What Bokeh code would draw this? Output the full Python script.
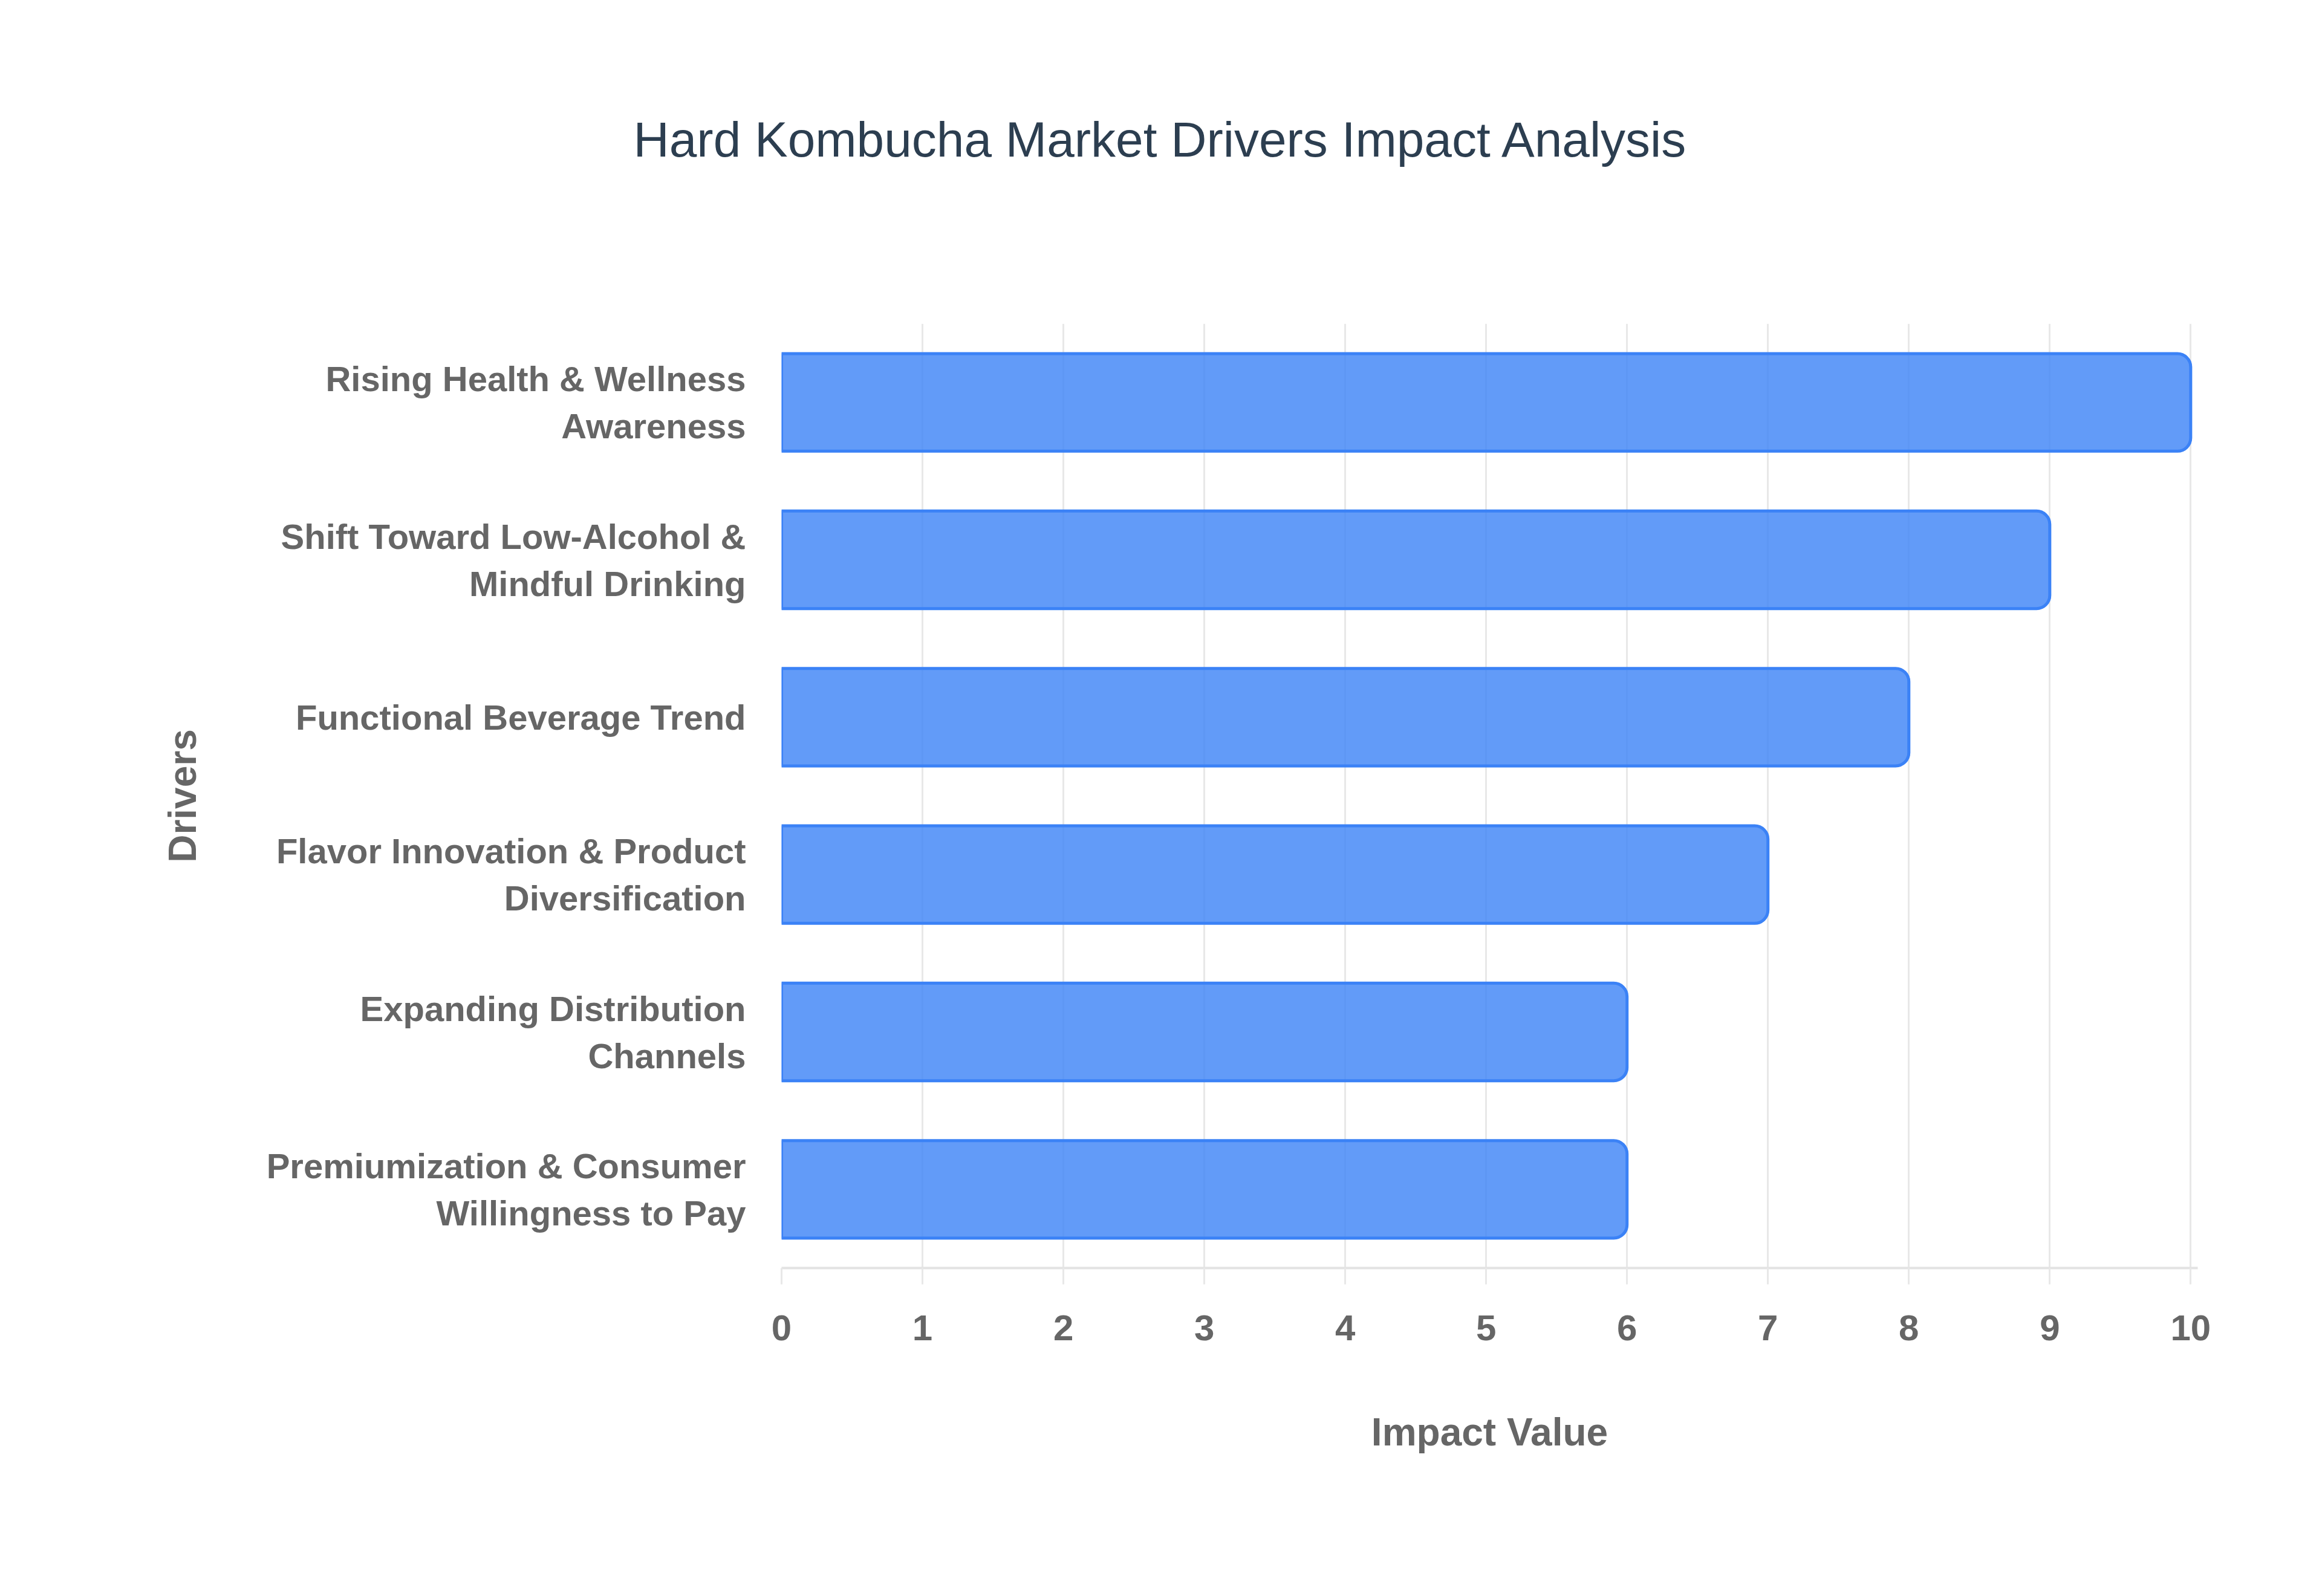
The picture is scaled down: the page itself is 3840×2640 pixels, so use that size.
from bokeh.plotting import figure
from bokeh.models import ColumnDataSource, FactorRange, Range1d, FixedTicker, LinearAxis
from bokeh.embed import file_html
from bokeh.resources import INLINE

# Drivers, top to bottom (line breaks as in the chart)
drivers = [
    "Rising Health & Wellness\nAwareness",
    "Shift Toward Low-Alcohol &\nMindful Drinking",
    "Functional Beverage Trend",
    "Flavor Innovation & Product\nDiversification",
    "Expanding Distribution\nChannels",
    "Premiumization & Consumer\nWillingness to Pay",
]
impact = [10, 9, 8, 7, 6, 6]
x_ticks = [0, 1, 2, 3, 4, 5, 6, 7, 8, 9, 10]

LABEL_FONT = "Liberation Sans"
LABEL_COLOR = "#666666"
BAR_COLOR = "#3b82f6"

source = ColumnDataSource(data=dict(driver=drivers, impact=impact))

p = figure(
    width=3824, height=2624,
    y_range=FactorRange(factors=drivers[::-1]),
    x_range=Range1d(0, 10.05),
    output_backend="svg", toolbar_location=None,
    min_border_left=1292, min_border_right=190,
    min_border_top=535, min_border_bottom=527,
)
p.outline_line_color = None
p.background_fill_color = "white"
p.border_fill_color = "white"

# bars with rounded right ends
p.hbar(y="driver", left=0, right="impact", height=0.62, source=source,
       fill_color=BAR_COLOR, fill_alpha=0.8,
       line_color=BAR_COLOR, line_width=5,
       border_radius=(0, 22, 22, 0))

# blank axis above the frame: a white tick with no label, only used as a gap under the title
gap = LinearAxis(ticker=FixedTicker(ticks=[0]), axis_line_color=None,
                 major_tick_line_color="white", minor_tick_line_color=None,
                 major_tick_out=255, major_tick_in=0, major_label_standoff=0,
                 major_label_text_color=None, major_label_text_font_size="1px")
p.add_layout(gap, "above")

# title
p.title.text = "Hard Kombucha Market Drivers Impact Analysis"
p.title.text_font = LABEL_FONT
p.title.text_font_size = "82px"
p.title.text_font_style = "normal"
p.title.text_color = "#2c3e50"
p.title.align = "left"
p.title.offset = -245

# x axis
xaxis = p.below[0]
xaxis.ticker = FixedTicker(ticks=x_ticks)
xaxis.axis_label = "Impact Value"
xaxis.axis_label_text_font = LABEL_FONT
xaxis.axis_label_text_font_size = "64px"
xaxis.axis_label_text_font_style = "bold"
xaxis.axis_label_text_color = LABEL_COLOR
xaxis.axis_label_standoff = 113
xaxis.major_label_text_font = LABEL_FONT
xaxis.major_label_text_font_size = "60px"
xaxis.major_label_text_font_style = "bold"
xaxis.major_label_text_color = LABEL_COLOR
xaxis.major_label_standoff = 51
xaxis.axis_line_color = "#e3e3e3"
xaxis.axis_line_width = 4
xaxis.major_tick_line_color = "#e8e8e8"
xaxis.major_tick_line_width = 3
xaxis.major_tick_out = 27
xaxis.major_tick_in = 0
xaxis.minor_tick_line_color = None

# y axis
p.yaxis.axis_label = "Drivers"
p.yaxis.axis_label_text_font = LABEL_FONT
p.yaxis.axis_label_text_font_size = "64px"
p.yaxis.axis_label_text_font_style = "bold"
p.yaxis.axis_label_text_color = LABEL_COLOR
p.yaxis.axis_label_standoff = 100
p.yaxis.major_label_text_font = LABEL_FONT
p.yaxis.major_label_text_font_size = "58px"
p.yaxis.major_label_text_font_style = "bold"
p.yaxis.major_label_text_color = LABEL_COLOR
p.yaxis.major_label_text_line_height = 1.2
p.yaxis.major_label_standoff = 59
p.yaxis.axis_line_color = None
p.yaxis.major_tick_line_color = None
p.yaxis.major_tick_out = 0
p.yaxis.major_tick_in = 0

# grid (vertical lines follow the bottom axis ticks)
p.ygrid.grid_line_color = None
p.xgrid.ticker = FixedTicker(ticks=x_ticks)
p.xgrid.grid_line_color = "#e8e8e8"
p.xgrid.grid_line_width = 3

open("out.html", "w").write(file_html(p, INLINE))
